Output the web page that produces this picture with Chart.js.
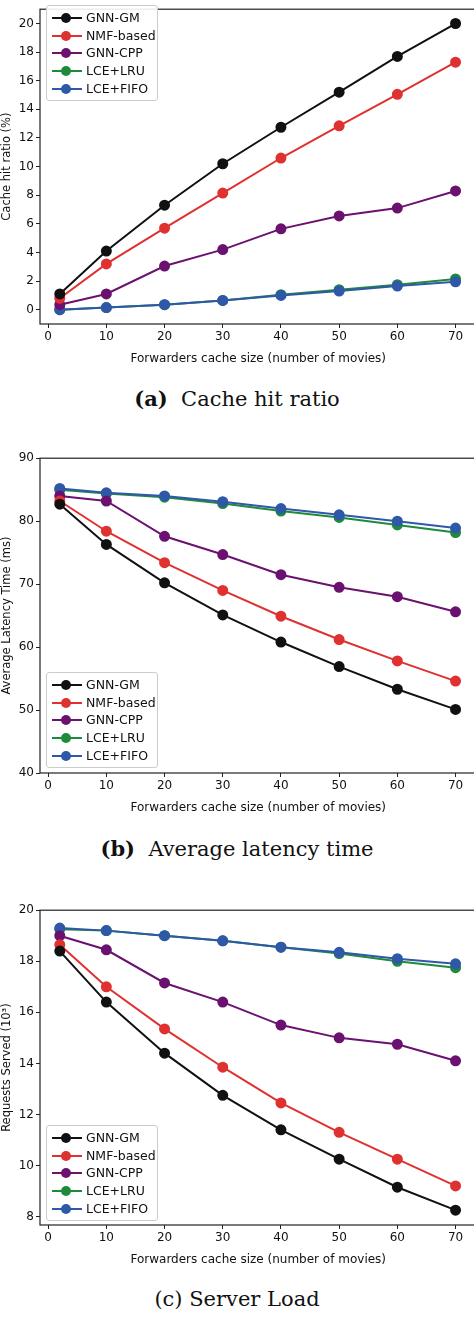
<!DOCTYPE html>
<html>
<head>
<meta charset="utf-8">
<script src="https://cdn.jsdelivr.net/npm/chart.js@4"></script>
<style>
  body { margin: 0; background: #fff; width: 474px; height: 1319px; position: relative; overflow: hidden; font-family: "DejaVu Sans", sans-serif; }
  .box { position: absolute; left: 0; width: 483px; }
  .cap { position: absolute; left: 0; width: 474px; text-align: center; font-family: "DejaVu Serif", serif; font-size: 21px; color: #111; }
  .legend { position: absolute; left: 46px; width: 110px; border: 1px solid #ccc; border-radius: 3px; background: rgba(255,255,255,0.9); padding: 3px 0; font-size: 12.5px; color: #111; }
  .legend div { position: relative; height: 17.7px; line-height: 17.7px; padding-left: 39px; }
  .legend span.l { position: absolute; left: 5px; top: 8px; width: 30px; height: 2px; }
  .legend span.m { position: absolute; left: 14px; top: 4px; width: 10px; height: 10px; border-radius: 50%; }
</style>
</head>
<body>
<div class="box" style="top:0;height:366px"><canvas id="c1"></canvas></div>
<div class="cap" style="top:386px"><b>(a)</b>&nbsp; Cache hit ratio</div>
<div class="box" style="top:449px;height:366px"><canvas id="c2"></canvas></div>
<div class="cap" style="top:836px"><b>(b)</b>&nbsp; Average latency time</div>
<div class="box" style="top:901px;height:366px"><canvas id="c3"></canvas></div>
<div class="cap" style="top:1287px">(c) Server Load</div>
<div class="legend" id="lg1" style="top:5px"></div>
<div class="legend" id="lg2" style="top:672px"></div>
<div class="legend" id="lg3" style="top:1125px"></div>
<script>
const cacheSizes = [2, 10, 20, 30, 40, 50, 60, 70];
const xTicks = [0, 10, 20, 30, 40, 50, 60, 70];
const seriesNames = ["GNN-GM", "NMF-based", "GNN-CPP", "LCE+LRU", "LCE+FIFO"];
const seriesColors = ["#111111", "#e03131", "#6b1170", "#1e8a3c", "#2f58a8"];
const drawOrder = [0, 1, 2, 4, 3];

const hitGM = [1.1, 4.1, 7.3, 10.2, 12.75, 15.2, 17.7, 20.0];
const hitNMF = [0.8, 3.2, 5.7, 8.15, 10.6, 12.85, 15.05, 17.3];
const hitCPP = [0.35, 1.1, 3.05, 4.2, 5.65, 6.55, 7.1, 8.3];
const hitLRU = [0.0, 0.15, 0.35, 0.65, 1.05, 1.4, 1.75, 2.15];
const hitFIFO = [0.0, 0.15, 0.35, 0.65, 1.0, 1.3, 1.65, 1.95];
const hitTicks = [0, 2, 4, 6, 8, 10, 12, 14, 16, 18, 20];

const latGM = [82.7, 76.3, 70.2, 65.1, 60.8, 56.9, 53.3, 50.1];
const latNMF = [83.2, 78.4, 73.4, 69.0, 64.9, 61.2, 57.8, 54.6];
const latCPP = [84.0, 83.2, 77.6, 74.7, 71.5, 69.5, 68.0, 65.6];
const latLRU = [85.0, 84.4, 83.8, 82.8, 81.6, 80.6, 79.4, 78.2];
const latFIFO = [85.2, 84.5, 84.0, 83.1, 82.0, 81.0, 80.0, 78.9];
const latTicks = [40, 50, 60, 70, 80, 90];

const reqGM = [18.4, 16.4, 14.4, 12.75, 11.4, 10.25, 9.15, 8.25];
const reqNMF = [18.65, 17.0, 15.35, 13.85, 12.45, 11.3, 10.25, 9.2];
const reqCPP = [19.0, 18.45, 17.15, 16.4, 15.5, 15.0, 14.75, 14.1];
const reqLRU = [19.25, 19.2, 19.0, 18.8, 18.55, 18.3, 18.0, 17.75];
const reqFIFO = [19.3, 19.2, 19.0, 18.8, 18.55, 18.35, 18.1, 17.9];
const reqTicks = [8, 10, 12, 14, 16, 18, 20];

const frame = {
  id: "frame",
  afterDatasetsDraw(chart) {
    const a = chart.chartArea, ctx = chart.ctx;
    ctx.save();
    ctx.strokeStyle = "#222";
    ctx.lineWidth = 1.2;
    ctx.strokeRect(a.left, a.top, a.right - a.left, a.bottom - a.top);
    ctx.restore();
  }
};

function buildLegend(id) {
  const el = document.getElementById(id);
  seriesNames.forEach((n, i) => {
    el.innerHTML += `<div><span class="l" style="background:${seriesColors[i]}"></span><span class="m" style="background:${seriesColors[i]}"></span>${n}</div>`;
  });
}

function makeChart(id, series, yTicks, yMin, yMax, yTitle) {
  new Chart(document.getElementById(id), {
    type: "line",
    data: {
      datasets: series.map((vals, i) => ({
        label: seriesNames[i],
        data: vals.map((v, j) => ({ x: cacheSizes[j], y: v })),
        borderColor: seriesColors[i],
        backgroundColor: seriesColors[i],
        borderWidth: 2,
        pointRadius: 4.5,
        order: drawOrder[i],
        tension: 0
      }))
    },
    options: {
      responsive: true,
      maintainAspectRatio: false,
      animation: false,
      layout: { padding: { top: 1, right: 0, left: 0, bottom: 0 } },
      plugins: { legend: { display: false }, tooltip: { enabled: false } },
      scales: {
        x: {
          type: "linear", min: -1.4, max: 73.6,
          afterBuildTicks: s => { s.ticks = xTicks.map(v => ({ value: v })); },
          afterFit: s => { s.height = 42; },
          grid: { drawOnChartArea: false, tickLength: 4, color: "#222" },
          border: { display: false },
          ticks: { color: "#111", font: { size: 12, family: "DejaVu Sans" }, padding: 2, maxRotation: 0 },
          title: { display: true, text: "Forwarders cache size (number of movies)", color: "#111", font: { size: 12, family: "DejaVu Sans" }, padding: 0 }
        },
        y: {
          type: "linear", min: yMin, max: yMax,
          afterBuildTicks: s => { s.ticks = yTicks.map(v => ({ value: v })); },
          afterFit: s => { s.width = 40; },
          grid: { drawOnChartArea: false, tickLength: 4, color: "#222" },
          border: { display: false },
          ticks: { color: "#111", font: { size: 12, family: "DejaVu Sans" }, padding: 2 },
          title: { display: true, text: yTitle, color: "#111", font: { size: 11.5, family: "DejaVu Sans" }, padding: 0 }
        }
      }
    },
    plugins: [frame]
  });
}

makeChart("c1", [hitGM, hitNMF, hitCPP, hitLRU, hitFIFO], hitTicks, -1, 21, "Cache hit ratio (%)");
makeChart("c2", [latGM, latNMF, latCPP, latLRU, latFIFO], latTicks, 40, 90, "Average Latency Time (ms)");
makeChart("c3", [reqGM, reqNMF, reqCPP, reqLRU, reqFIFO], reqTicks, 7.67, 20, "Requests Served (10³)");
buildLegend("lg1"); buildLegend("lg2"); buildLegend("lg3");
</script>
</body>
</html>
